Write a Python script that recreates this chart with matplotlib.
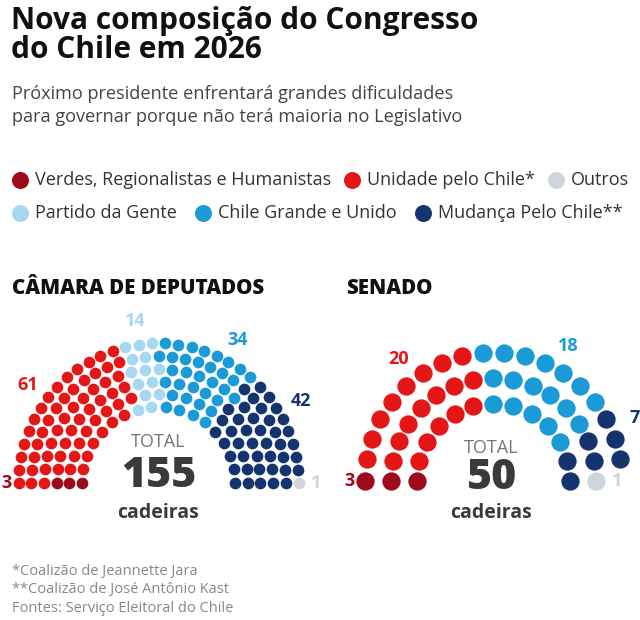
import matplotlib.pyplot as plt
import numpy as np

# parties, in seating order (left to right)
parties = ["Verdes, Regionalistas e Humanistas", "Unidade pelo Chile*", "Partido da Gente",
           "Chile Grande e Unido", "Mudança Pelo Chile**", "Outros"]
colors = ["#9c0a1c", "#e51616", "#a6d8f2", "#1a9bd7", "#14336f", "#cfd5dc"]

camara_seats = [3, 61, 14, 34, 42, 1]
camara_total = 155
senado_seats = [3, 20, 0, 18, 7, 1]
senado_total = 50

# legend order as in the picture
legend_rows = [[0, 1, 5], [2, 3, 4]]

BODY = ["Open Sans", "DejaVu Sans"]


def seat_layout(rows, r_in, r_out):
    # polar positions of every seat, ordered left to right, inner first on ties
    radii = np.linspace(r_in, r_out, len(rows))
    seats = []
    for n, r in zip(rows, radii):
        for a in np.linspace(np.pi, 0, n):
            seats.append((round(a, 6), r))
    seats.sort(key=lambda s: (-s[0], s[1]))
    return np.array(seats)


def hemicycle(ax, seats, rows, cx, cy, r_in, r_out, dot, pad, label_ang):
    pos = seat_layout(rows, r_in, r_out)
    ang, rad = pos[:, 0], pos[:, 1]
    x = cx + rad * np.cos(ang)
    y = cy - rad * np.sin(ang)
    s = (dot * 0.72) ** 2
    start = 0
    for k, (count, col) in enumerate(zip(seats, colors)):
        if count == 0:
            continue
        sl = slice(start, start + count)
        ax.scatter(x[sl], y[sl], s=s, color=col, linewidths=0, zorder=3)
        kw = dict(color=col, va="center", fontsize=13, fontweight="bold", family=BODY)
        a = label_ang[k]
        if a == "left":
            ax.text(cx - r_out - dot / 2 - 1, cy, str(count), ha="right", **kw)
        elif a == "right":
            ax.text(x[sl].max() + dot / 2 + 7, cy, str(count), ha="left", **kw)
        else:
            a = np.radians(a)
            ax.text(cx + (r_out + pad) * np.cos(a), cy - (r_out + pad) * np.sin(a), str(count),
                    ha="center", **kw)
        start += count


fig = plt.figure(figsize=(6.4, 6.2), dpi=100)
ax = fig.add_axes([0, 0, 1, 1])
ax.set_xlim(0, 640)
ax.set_ylim(620, 0)
ax.axis("off")

# titles
for ty, line in [(29, "Nova composição do Congresso"), (58, "do Chile em 2026")]:
    ax.text(11, ty, line, fontsize=21.5, fontweight="bold", family=BODY, va="baseline", color="#111111")
for ty, line in [(99, "Próximo presidente enfrentará grandes dificuldades"),
                 (122, "para governar porque não terá maioria no Legislativo")]:
    ax.text(12, ty, line, fontsize=13.1, family=BODY, va="baseline", color="#444444")

# legend
legend_x = [[20, 352, 556], [20, 203, 423]]
for row, (items, xs) in enumerate(zip(legend_rows, legend_x)):
    ly = 180 + row * 33
    for k, lx in zip(items, xs):
        ax.scatter([lx], [ly], s=(17 * 0.72) ** 2, color=colors[k], linewidths=0)
        ax.text(lx + 15, ly, parties[k], fontsize=13, family=BODY, va="center", color="#333333")

# section heads
ax.text(12, 289, "CÂMARA DE DEPUTADOS", fontsize=14.8, fontweight="heavy", family=BODY,
        va="center", color="#111111")
ax.text(346, 289, "SENADO", fontsize=14.8, fontweight="heavy", family=BODY, va="center", color="#111111")

hemicycle(ax, camara_seats, [18, 21, 24, 27, 31, 34], 158.5, 483.3, 76.5, 140, 11.7, 24,
          ["left", 143, 98, 61, 30, "right"])
hemicycle(ax, senado_seats, [13, 17, 20], 493.3, 480.5, 76.7, 128.3, 18.3, 26,
          ["left", 128, None, 61, 24, "right"])

for cx, ty, tot in [(158.5, 442, camara_total), (491, 448, senado_total)]:
    ax.text(cx, ty, "TOTAL", fontsize=13, family=BODY, ha="center", va="center", color="#777777")
    ax.text(cx, ty + 34 if tot > 99 else ty + 30, str(tot), fontsize=31, fontweight="heavy", family=BODY,
            ha="center", va="center", color="#3a3a3a")
    ax.text(cx, 513, "cadeiras", fontsize=14, fontweight="bold", family=BODY, ha="center",
            va="center", color="#3a3a3a")

# footnotes
ax.text(12, 590, "*Coalizão de Jeannette Jara\n**Coalizão de José Antônio Kast\nFontes: Serviço Eleitoral do Chile",
        fontsize=10.5, family=BODY, va="center", linespacing=1.3, color="#888888")

fig.savefig("out.png", dpi=100)
